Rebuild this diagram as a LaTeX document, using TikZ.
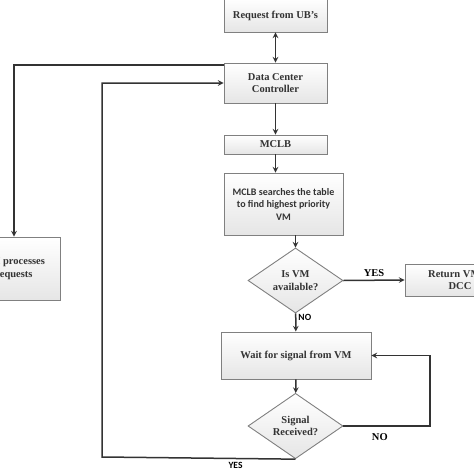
\documentclass[tikz,border=0pt]{standalone}
\usepackage{fontspec}
\setmainfont{Liberation Serif}
\newfontfamily\labelsans{Carlito}
\usetikzlibrary{arrows, shapes.geometric}
\tikzset{
	->,
	>=stealth,
	align=center,
	procbox/.style={rectangle, draw=black!50, line width=0.9pt, top color=white, bottom color=gray!20, font=\fontsize{10.5}{12.5}\selectfont\bfseries, inner sep=0pt},
	choice/.style={diamond, draw=black!50, line width=0.9pt, top color=white, bottom color=gray!20, font=\fontsize{10.5}{12.5}\selectfont\bfseries, inner sep=0pt, minimum width=95pt},
	tag/.style={font=\labelsans\fontsize{9.5}{11}\selectfont\bfseries, inner sep=2pt}
}

\begin{document}
\begin{tikzpicture}
	[ x=1pt, y=-1pt, line width=1.5pt, color=black!80 ]
	\useasboundingbox (0,0) rectangle (474,474);
	\node(req)[procbox, minimum width=103pt, minimum height=33pt] at (275.5,15.5) {Request from UB's};
	\node(dcc)[procbox, minimum width=103pt, minimum height=40pt] at (275.5,83) {Data Center\\Controller};
	\node(mclb)[procbox, minimum width=103pt, minimum height=19pt] at (275.5,144.5) {MCLB};
	\node(search)[procbox, minimum width=119pt, minimum height=62pt, font=\labelsans\fontsize{10}{12.5}\selectfont\bfseries] at (283.5,204) {MCLB searches the table\\to find highest priority\\VM};
	\node(avail)[choice, minimum height=55pt] at (295.5,280.5) {Is VM\\available?};
	\node(ret)[procbox, minimum width=110pt, minimum height=32pt] at (460,280) {Return VM to\\DCC};
	\node(wait)[procbox, minimum width=150pt, minimum height=47pt] at (296,355.5) {Wait for signal from VM};
	\node(signal)[choice, minimum height=62pt] at (295.5,426) {Signal\\Received?};
	\node(proc)[procbox, minimum width=92pt, minimum height=63pt] at (14,268.5) {VM processes\\requests};
	\coordinate(back) at (102,457);
	\coordinate(retry) at (430,426);

	\draw[<->] (req) -- (dcc);
	\draw (dcc) -- (mclb);
	\draw (mclb.south) -- (mclb.south |- search.north);
	\draw (search.south -| avail) -- (avail.north);
	\draw (avail) -- node[tag, right, pos=0.2, black]{NO} (wait);
	\draw (avail.east) -- node[above, black, font=\fontsize{10.5}{12.5}\selectfont\bfseries]{YES} (ret.west);
	\draw (wait) -- (signal);
	\draw (signal.east) -- node[below=3pt, pos=0.42, black, font=\fontsize{10.5}{12.5}\selectfont\bfseries]{NO} (retry) |- (wait.east);
	\draw (signal.south) -- node[tag, below=1pt, pos=0.31, black]{YES} (back) |- (dcc.west);
	\draw ([yshift=18pt]dcc.west) -| (proc.north);
\end{tikzpicture}
\end{document}
